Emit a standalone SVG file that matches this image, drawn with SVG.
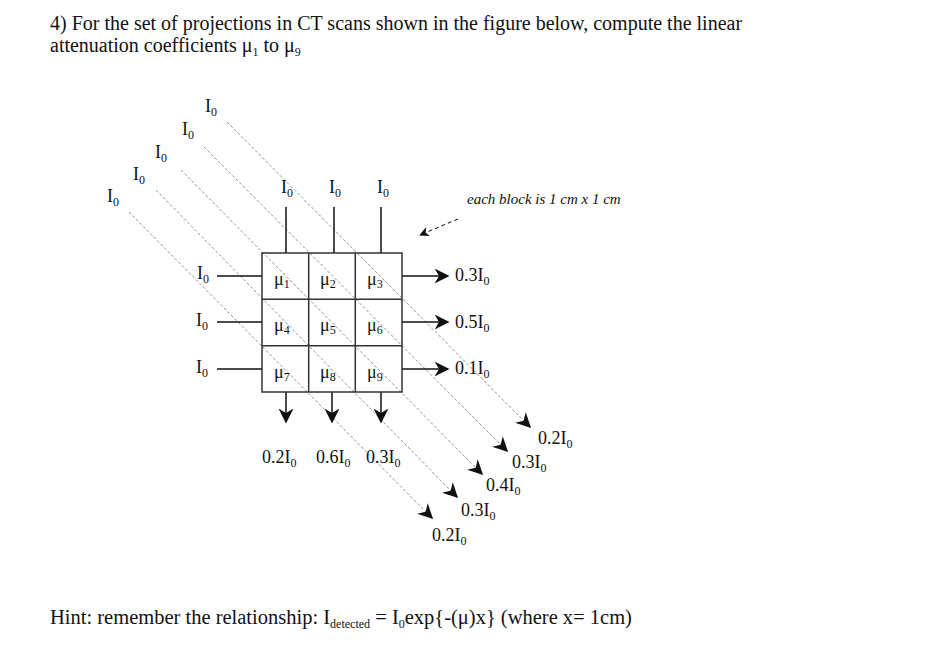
<svg xmlns="http://www.w3.org/2000/svg" width="945" height="649" viewBox="0 0 945 649">
<style>
text{font-family:"Liberation Serif",serif;fill:#111}
.t{font-size:20px}
.l{font-size:18px}
.s{font-size:12px}
.g{fill:none;stroke:#333;stroke-width:1.5}
.d{stroke:#777;stroke-width:0.8;stroke-dasharray:3,2;fill:none}
.a{stroke:#111;stroke-width:1.5;fill:none}
.m{marker-end:url(#ab)}
</style>
<defs>
<marker id="ar" viewBox="0 0 10 10" refX="9" refY="5" markerWidth="10" markerHeight="10" markerUnits="userSpaceOnUse" orient="auto"><path d="M0,0 L10,5 L0,10 L3,5 z" fill="#111"/></marker>
<marker id="ab" viewBox="0 0 10 10" refX="9" refY="5" markerWidth="15" markerHeight="15" markerUnits="userSpaceOnUse" orient="auto"><path d="M0,0 L10,5 L0,10 L3,5 z" fill="#111"/></marker>
</defs>
<text class="t" x="50" y="30">4) For the set of projections in CT scans shown in the figure below, compute the linear</text>
<text class="t" x="50" y="52">attenuation coefficients μ<tspan class="s" dy="4">1</tspan><tspan dy="-4"> to μ</tspan><tspan class="s" dy="4">9</tspan></text>
<g id="connectors">
<path class="d" d="M227,122 L527,424 M204,147 L504,448 M181,170 L479,471 M156,190 L454,494 M129,212 L429,515"/>
<path class="a m" d="M527,424 L530,427"/>
<path class="a m" d="M504,448 L507,451"/>
<path class="a m" d="M479,471 L482,474"/>
<path class="a m" d="M454,494 L457,497"/>
<path class="a m" d="M429,515 L432,518"/>
<path class="a" d="M286,207 V253 M334,207 V253 M381,207 V253 M217,276 H262 M217,322 H262 M217,369 H262"/>
<path class="a m" d="M402,276 H448"/>
<path class="a m" d="M402,322 H448"/>
<path class="a m" d="M402,369 H448"/>
<path class="a m" d="M286,392 V422"/>
<path class="a m" d="M332,392 V422"/>
<path class="a m" d="M381,392 V422"/>
<path d="M458,219 L420,235" stroke="#111" stroke-width="1" stroke-dasharray="4,3" fill="none" marker-end="url(#ar)"/>
</g>
<g id="grid">
<rect class="g" x="262" y="253" width="140" height="139"/>
<path class="g" d="M308.7,253 V392 M355.3,253 V392 M262,299.3 H402 M262,345.7 H402"/>
<text class="l" x="274" y="285">μ<tspan class="s" dy="3">1</tspan></text>
<text class="l" x="320" y="285">μ<tspan class="s" dy="3">2</tspan></text>
<text class="l" x="367" y="285">μ<tspan class="s" dy="3">3</tspan></text>
<text class="l" x="274" y="331">μ<tspan class="s" dy="3">4</tspan></text>
<text class="l" x="320" y="331">μ<tspan class="s" dy="3">5</tspan></text>
<text class="l" x="367" y="331">μ<tspan class="s" dy="3">6</tspan></text>
<text class="l" x="274" y="378">μ<tspan class="s" dy="3">7</tspan></text>
<text class="l" x="320" y="378">μ<tspan class="s" dy="3">8</tspan></text>
<text class="l" x="367" y="378">μ<tspan class="s" dy="3">9</tspan></text>
</g>
<g id="labels">
<text class="l" x="205" y="112">I<tspan class="s" dy="4">0</tspan></text>
<text class="l" x="182" y="135">I<tspan class="s" dy="4">0</tspan></text>
<text class="l" x="155" y="158">I<tspan class="s" dy="4">0</tspan></text>
<text class="l" x="133" y="180">I<tspan class="s" dy="4">0</tspan></text>
<text class="l" x="107" y="202">I<tspan class="s" dy="4">0</tspan></text>
<text class="l" x="281" y="193">I<tspan class="s" dy="4">0</tspan></text>
<text class="l" x="329" y="193">I<tspan class="s" dy="4">0</tspan></text>
<text class="l" x="377" y="193">I<tspan class="s" dy="4">0</tspan></text>
<text class="l" x="197" y="279">I<tspan class="s" dy="4">0</tspan></text>
<text class="l" x="196" y="326">I<tspan class="s" dy="4">0</tspan></text>
<text class="l" x="196" y="373">I<tspan class="s" dy="4">0</tspan></text>
<text class="l" x="455" y="281">0.3I<tspan class="s" dy="4">0</tspan></text>
<text class="l" x="455" y="328">0.5I<tspan class="s" dy="4">0</tspan></text>
<text class="l" x="455" y="374">0.1I<tspan class="s" dy="4">0</tspan></text>
<text class="l" x="262" y="463">0.2I<tspan class="s" dy="4">0</tspan></text>
<text class="l" x="316" y="463">0.6I<tspan class="s" dy="4">0</tspan></text>
<text class="l" x="366" y="463">0.3I<tspan class="s" dy="4">0</tspan></text>
<text class="l" x="538" y="444">0.2I<tspan class="s" dy="4">0</tspan></text>
<text class="l" x="512" y="468">0.3I<tspan class="s" dy="4">0</tspan></text>
<text class="l" x="486" y="491">0.4I<tspan class="s" dy="4">0</tspan></text>
<text class="l" x="461" y="516">0.3I<tspan class="s" dy="4">0</tspan></text>
<text class="l" x="432" y="541">0.2I<tspan class="s" dy="4">0</tspan></text>
<text x="467" y="204" style="font-size:15px;font-style:italic">each block is 1 cm x 1 cm</text>
</g>
<text class="t" x="50" y="624" style="font-size:20.5px">Hint: remember the relationship:  I<tspan class="s" dy="4">detected</tspan><tspan dy="-4"> = I</tspan><tspan class="s" dy="4">0</tspan><tspan dy="-4">exp{-(μ)x} (where x= 1cm)</tspan></text>
</svg>
